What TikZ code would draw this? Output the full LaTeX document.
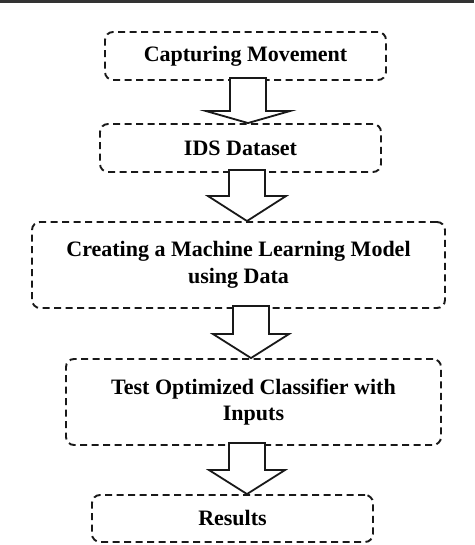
\documentclass[tikz,border=0pt]{standalone}
\usepackage{fontspec}
\setmainfont{Liberation Serif}
\usetikzlibrary{calc}
\tikzset{
  stage/.style={draw=black!90, line width=1.9pt, dash pattern=on 7pt off 4.5pt,
    rounded corners=8pt, fill=white, align=center, inner sep=0pt,
    font=\fontsize{22}{26.5}\selectfont\bfseries, text=black},
  blockarrow/.style={draw=black!90, line width=1.8pt, fill=white, line join=miter},
}
% #1 from node, #2 to node, #3 x centre, #4 head height, #5 head half-width
\newcommand\blockarr[5]{%
  \draw[blockarrow] let \p1=(#1.south), \p2=(#2.north) in
    (#3pt-18pt,\y1+3pt) -- (#3pt+18pt,\y1+3pt) -- (#3pt+18pt,\y2+#4pt)
    -- (#3pt+#5pt,\y2+#4pt) -- (#3pt,\y2) -- (#3pt-#5pt,\y2+#4pt)
    -- (#3pt-18pt,\y2+#4pt) -- cycle;}
\begin{document}
\begin{tikzpicture}[x=1pt,y=1pt]
\useasboundingbox (0,0) rectangle (474,545);
\fill[black!80] (0,542) rectangle (474,545);
\node[stage, minimum width=281pt, minimum height=48pt] (b1) at (245.5,489) {Capturing Movement};
\node[stage, minimum width=281pt, minimum height=48pt] (b2) at (240.5,397) {IDS Dataset};
\node[stage, minimum width=413pt, minimum height=86pt] (b3) at (238.5,280) {Creating a Machine Learning Model\\using Data};
\node[stage, minimum width=375pt, minimum height=86pt] (b4) at (253.5,143) {Test Optimized Classifier with\\Inputs};
\node[stage, minimum width=281pt, minimum height=47pt] (b5) at (232.5,26.5) {Results};
\blockarr{b1}{b2}{248}{12}{42}
\blockarr{b2}{b3}{247}{25}{39}
\blockarr{b3}{b4}{251}{24}{38}
\blockarr{b4}{b5}{247}{24}{38}
\end{tikzpicture}
\end{document}
